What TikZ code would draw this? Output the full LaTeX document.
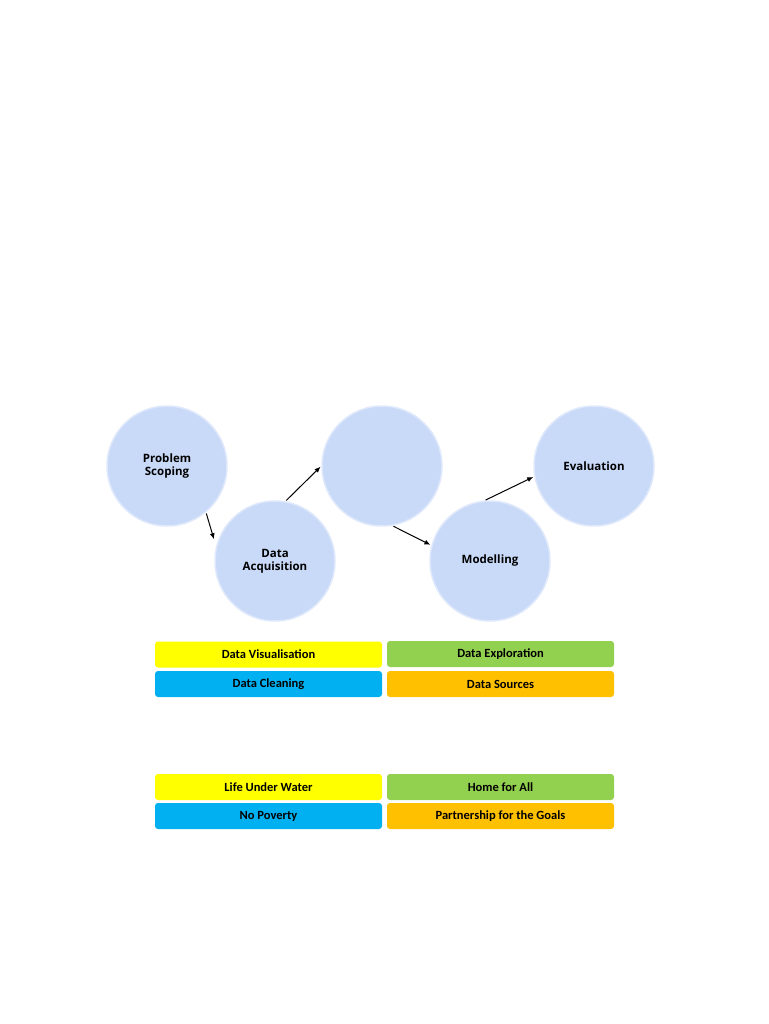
\documentclass[tikz,border=0pt]{standalone}
\usepackage{fontspec}
\setmainfont{Carlito}
\newfontfamily\circfont{Open Sans}
\usetikzlibrary{arrows.meta}
\definecolor{circ}{HTML}{C9DAF8}
\definecolor{yel}{HTML}{FFFF00}
\definecolor{grn}{HTML}{92D050}
\definecolor{blu}{HTML}{00B0F0}
\definecolor{org}{HTML}{FFC000}
\tikzset{
  stage/.style={circle,fill=circ,draw=circ!60!white,line width=1.5pt,minimum size=120pt,inner sep=0pt,align=center,font=\circfont\bfseries\fontsize{11.5}{13}\selectfont},
  tag/.style={rounded corners=3pt,minimum width=227pt,minimum height=26pt,inner sep=0pt,font=\bfseries\fontsize{12.5}{14}\selectfont},
  flow/.style={-{Latex[length=6pt,width=5pt]},line width=1pt,shorten >=1pt,shorten <=1pt}
}
\begin{document}
\begin{tikzpicture}[x=1pt,y=-1pt]
\useasboundingbox[fill=white] (0,0) rectangle (768,1024);
\node[stage] (ps) at (167,466) {Problem\\Scoping};
\node[stage] (da) at (275,561) {Data\\Acquisition};
\node[stage] (em) at (382,466) {};
\node[stage] (mo) at (490,561) {Modelling};
\node[stage] (ev) at (594,466) {Evaluation};
\draw[flow] (ps.-50) -- (da.west|-da.160);
\draw[flow] (da.80) -- (em.180);
\draw[flow] (em.-80) -- (mo.165);
\draw[flow] (mo.95) -- (ev.190);
\node[tag,fill=yel] (a1) at (268.5,654.5) {Data Visualisation};
\node[tag,fill=grn] (a2) at (500.5,654) {Data Exploration};
\node[tag,fill=blu] (a3) at (268.5,684) {Data Cleaning};
\node[tag,fill=org] (a4) at (500.5,684) {Data Sources};
\node[tag,fill=yel] (b1) at (268.5,787) {Life Under Water};
\node[tag,fill=grn] (b2) at (500.5,787) {Home for All};
\node[tag,fill=blu] (b3) at (268.5,816) {No Poverty};
\node[tag,fill=org] (b4) at (500.5,816) {Partnership for the Goals};
\end{tikzpicture}
\end{document}
